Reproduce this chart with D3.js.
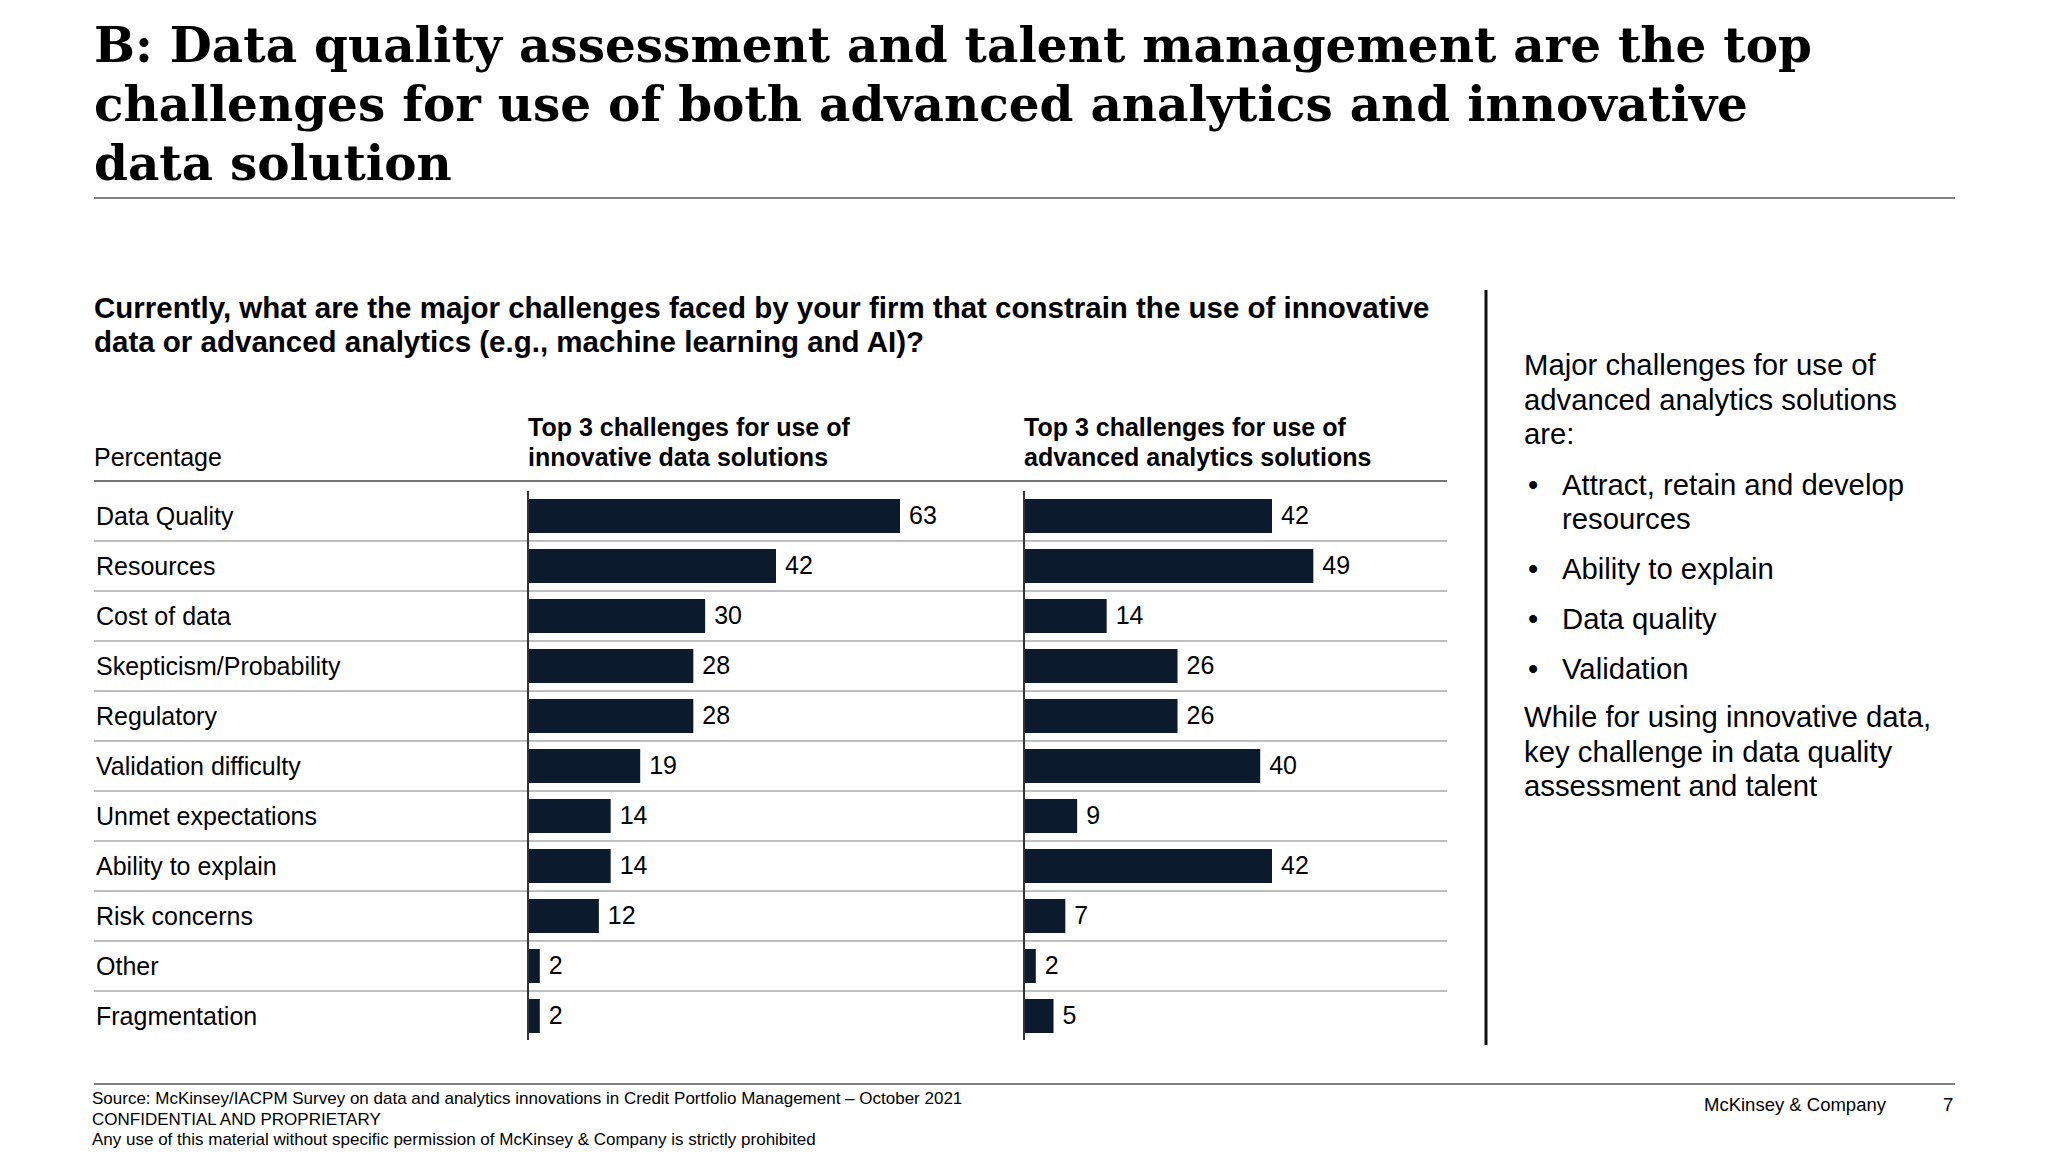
<!DOCTYPE html>
<html><head><meta charset="utf-8">
<script src="https://cdn.jsdelivr.net/npm/d3@7"></script>
<style>body{margin:0;background:#fff}</style></head>
<body><svg id="c" width="2048" height="1152"></svg>
<script>
const categories=["Data Quality","Resources","Cost of data","Skepticism/Probability","Regulatory","Validation difficulty","Unmet expectations","Ability to explain","Risk concerns","Other","Fragmentation"];
const innovative=[63,42,30,28,28,19,14,14,12,2,2];
const advanced=[42,49,14,26,26,40,9,42,7,2,5];
const titleLines=["B: Data quality assessment and talent management are the top","challenges for use of both advanced analytics and innovative","data solution"];
const questionLines=["Currently, what are the major challenges faced by your firm that constrain the use of innovative","data or advanced analytics (e.g., machine learning and AI)?"];
const headers=[["Top 3 challenges for use of","innovative data solutions"],["Top 3 challenges for use of","advanced analytics solutions"]];
const sideIntro=["Major challenges for use of","advanced analytics solutions","are:"];
const bullets=[["Attract, retain and develop","resources"],["Ability to explain"],["Data quality"],["Validation"]];
const sideOutro=["While for using innovative data,","key challenge in data quality","assessment and talent"];
const footer=["Source: McKinsey/IACPM Survey on data and analytics innovations in Credit Portfolio Management – October 2021","CONFIDENTIAL AND PROPRIETARY","Any use of this material without specific permission of McKinsey & Company is strictly prohibited"];

const svg=d3.select("#c");
const sans="Arial, 'Liberation Sans', sans-serif";
const dark="#0b1a2c";
titleLines.forEach((t,i)=>svg.append("text").attr("x",94).attr("y",62+i*59).attr("font-family","'DejaVu Serif',serif").attr("font-weight","bold").attr("font-size",48.5).attr("fill","#000").text(t));
svg.append("line").attr("x1",94).attr("x2",1955).attr("y1",198).attr("y2",198).attr("stroke","#555").attr("stroke-width",1.5);
questionLines.forEach((t,i)=>svg.append("text").attr("x",94).attr("y",318+i*34).attr("font-family",sans).attr("font-weight","bold").attr("font-size",29.5).text(t));
svg.append("text").attr("x",94).attr("y",466).attr("font-family",sans).attr("font-size",25).text("Percentage");
const colX=[528,1024];
headers.forEach((h,j)=>h.forEach((t,i)=>svg.append("text").attr("x",colX[j]).attr("y",436+i*30).attr("font-family",sans).attr("font-weight","bold").attr("font-size",25).text(t)));
svg.append("line").attr("x1",94).attr("x2",1447).attr("y1",481).attr("y2",481).attr("stroke","#777").attr("stroke-width",2);

const y=d3.scaleBand().domain(categories).range([491,1041]).paddingInner(0.32).paddingOuter(0.16);
const x=d3.scaleLinear().domain([0,63]).range([0,372]);
const step=y.step();
categories.forEach((c,i)=>{
  const cy=y(c)+y.bandwidth()/2;
  svg.append("text").attr("x",96).attr("y",cy+9).attr("font-family",sans).attr("font-size",25).text(c);
  if(i<categories.length-1){
    svg.append("line").attr("x1",94).attr("x2",1447).attr("y1",y(c)+y.bandwidth()+step*0.16).attr("y2",y(c)+y.bandwidth()+step*0.16).attr("stroke","#aaa").attr("stroke-width",1.5);
  }
});
[innovative,advanced].forEach((vals,j)=>{
  const g=svg.append("g").attr("transform",`translate(${colX[j]},0)`);
  g.selectAll("rect").data(vals).join("rect").attr("x",0).attr("y",(d,i)=>y(categories[i])).attr("height",y.bandwidth()).attr("width",d=>x(d)).attr("fill",dark);
  g.selectAll("text").data(vals).join("text").attr("x",d=>x(d)+9).attr("y",(d,i)=>y(categories[i])+y.bandwidth()/2+8).attr("font-family",sans).attr("font-size",25).text(d=>d);
  g.append("line").attr("x1",0).attr("x2",0).attr("y1",491).attr("y2",1040).attr("stroke","#333").attr("stroke-width",2);
});
svg.append("line").attr("x1",1486).attr("x2",1486).attr("y1",290).attr("y2",1045).attr("stroke","#111").attr("stroke-width",3);
const fs=29.3, lh=34.5;
let yy=375;
sideIntro.forEach(t=>{svg.append("text").attr("x",1524).attr("y",yy).attr("font-family",sans).attr("font-size",fs).text(t);yy+=lh;});
yy+=16;
bullets.forEach(b=>{
  svg.append("text").attr("x",1528).attr("y",yy).attr("font-family",sans).attr("font-size",fs).text("•");
  b.forEach(t=>{svg.append("text").attr("x",1562).attr("y",yy).attr("font-family",sans).attr("font-size",fs).text(t);yy+=lh;});
  yy+=15.5;
});
yy-=2;
sideOutro.forEach(t=>{svg.append("text").attr("x",1524).attr("y",yy).attr("font-family",sans).attr("font-size",fs).text(t);yy+=lh;});
svg.append("line").attr("x1",94).attr("x2",1955).attr("y1",1084).attr("y2",1084).attr("stroke","#555").attr("stroke-width",1.5);
footer.forEach((t,i)=>svg.append("text").attr("x",92).attr("y",1104+i*20.5).attr("font-family",sans).attr("font-size",17).text(t));
svg.append("text").attr("x",1704).attr("y",1111).attr("font-family",sans).attr("font-size",18.5).text("McKinsey & Company");
svg.append("text").attr("x",1943).attr("y",1111).attr("font-family",sans).attr("font-size",18.5).text("7");
</script></body></html>
